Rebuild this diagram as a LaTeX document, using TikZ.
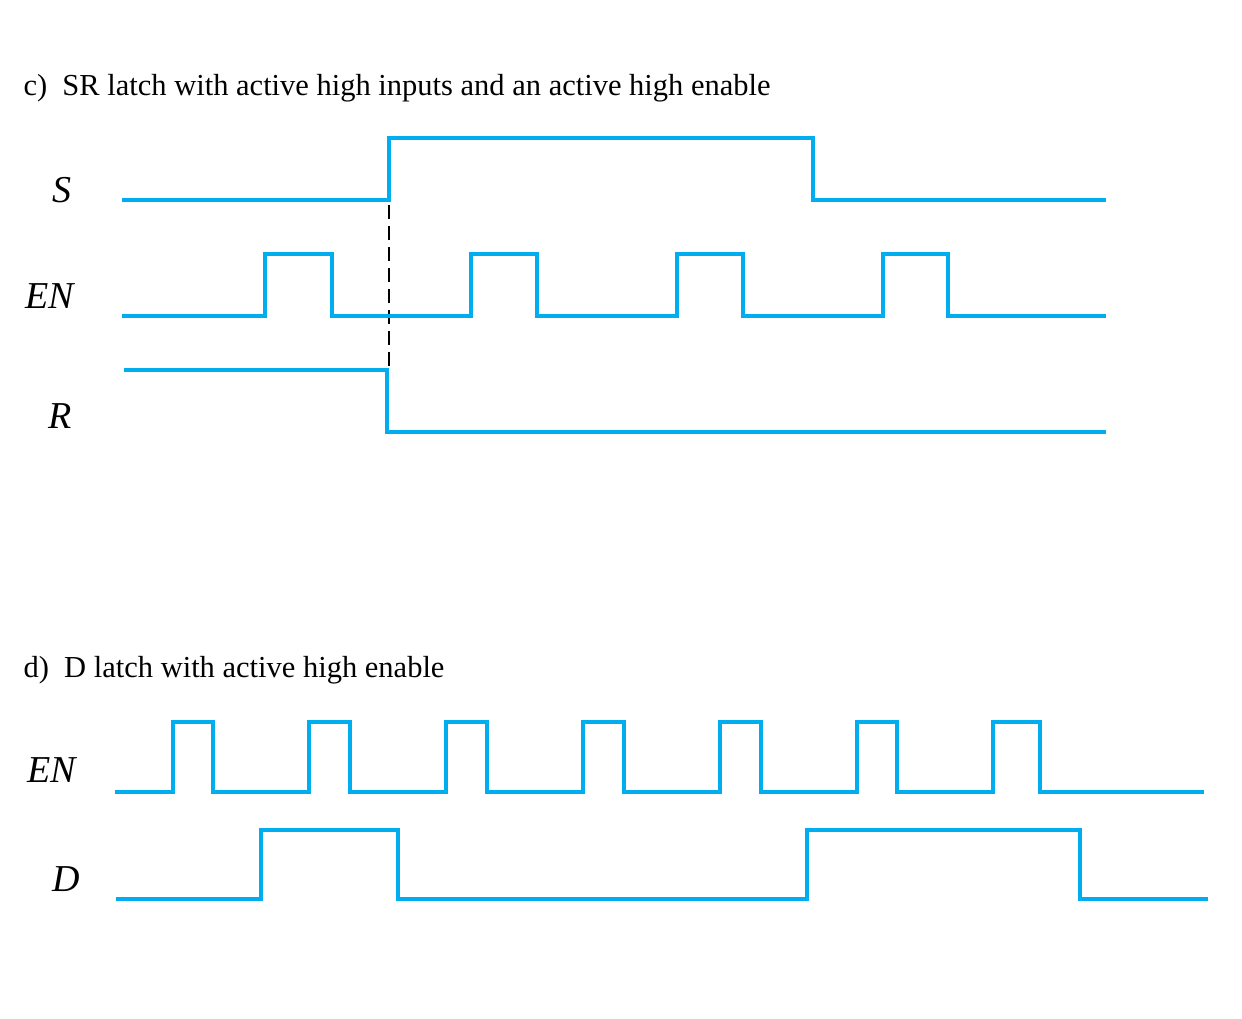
\documentclass[tikz,border=0pt]{standalone}
\usepackage{fontspec}
\setmainfont{Liberation Serif}
\begin{document}
\begin{tikzpicture}[x=1pt,y=-1pt,
  wave/.style={draw={rgb,255:red,0;green,174;blue,239},line width=3.5pt,line join=miter},
  lbl/.style={font=\itshape\fontsize{38}{40}\selectfont},
  ttl/.style={font=\fontsize{30.5}{33}\selectfont,anchor=west}]
\useasboundingbox (0,0) rectangle (1242,1018);
\node[ttl] (t1) at (20,88) {c)\ \ SR latch with active high inputs and an active high enable};
\node[lbl] (ls) at (62,190) {S};
\node[lbl] (le) at (50,296) {EN};
\node[lbl] (lr) at (60,416) {R};
\draw[black,line width=2.5pt,dash pattern=on 14pt off 7pt] (389,205) -- (389,368);
\draw[wave] (122,200) -- (389,200) -- (389,138) -- (813,138) -- (813,200) -- (1106,200);
\draw[wave] (122,316) -- (265,316) -- (265,254) -- (332,254) -- (332,316) -- (471,316) -- (471,254) -- (537,254) -- (537,316) -- (677,316) -- (677,254) -- (743,254) -- (743,316) -- (883,316) -- (883,254) -- (948,254) -- (948,316) -- (1106,316);
\draw[wave] (124,370) -- (387,370) -- (387,432) -- (1106,432);
\node[ttl] (t2) at (20,670) {d)\ \ D latch with active high enable};
\node[lbl] (le2) at (52,770) {EN};
\node[lbl] (ld) at (66,879) {D};
\draw[wave] (115,792) -- (173,792) -- (173,722) -- (213,722) -- (213,792) -- (309,792) -- (309,722) -- (350,722) -- (350,792) -- (446,792) -- (446,722) -- (487,722) -- (487,792) -- (583,792) -- (583,722) -- (624,722) -- (624,792) -- (720,792) -- (720,722) -- (761,722) -- (761,792) -- (857,792) -- (857,722) -- (897,722) -- (897,792) -- (993,792) -- (993,722) -- (1040,722) -- (1040,792) -- (1204,792);
\draw[wave] (116,899) -- (261,899) -- (261,830) -- (398,830) -- (398,899) -- (807,899) -- (807,830) -- (1080,830) -- (1080,899) -- (1208,899);
\end{tikzpicture}
\end{document}
